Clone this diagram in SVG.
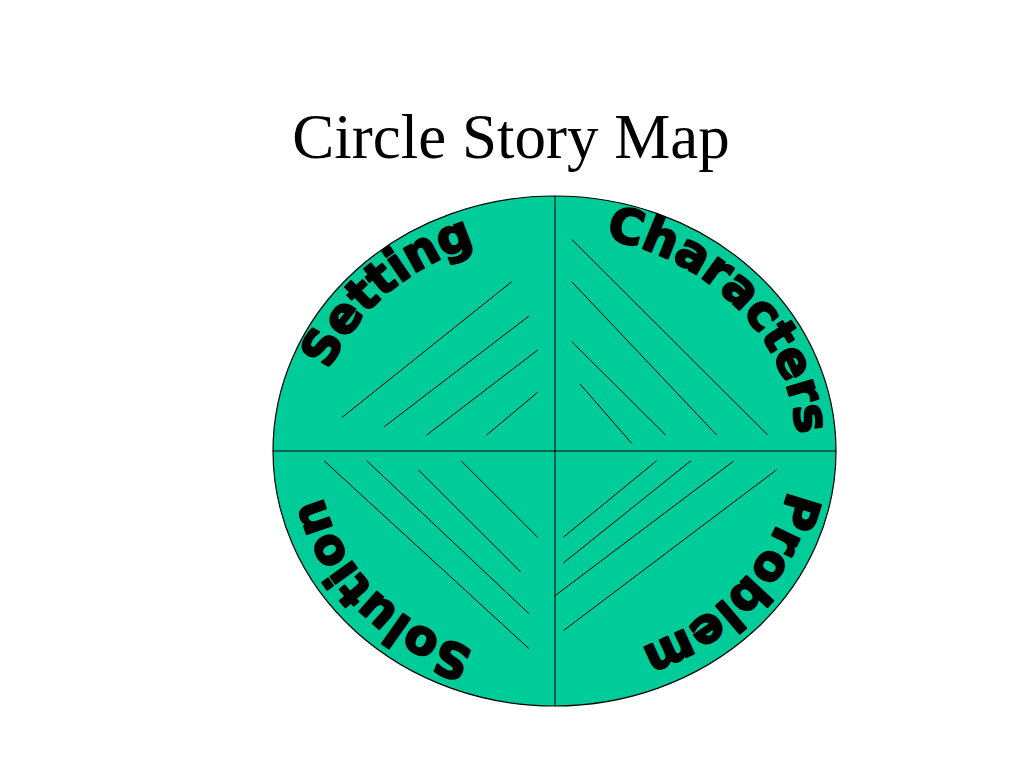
<svg xmlns="http://www.w3.org/2000/svg" width="1024" height="768" viewBox="0 0 1024 768">
<style>
.hatch{stroke:#000;stroke-width:1;fill:none}
.lbl{font-family:"DejaVu Sans","Liberation Sans",sans-serif;font-weight:bold;font-size:48px;fill:#000;stroke:#000;stroke-width:2.2;stroke-linejoin:round}
</style>
<defs>
<path id="arcTop" d="M 311.5,451 A 243 217 0 1 1 797.5,451 A 243 217 0 1 1 311.5,451 Z"/>
<path id="arcBot" d="M 317,451 A 237.5 211 0 1 1 792,451 A 237.5 211 0 1 1 317,451 Z"/>
</defs>
<rect width="1024" height="768" fill="#fff"/>
<text x="511" y="158" text-anchor="middle" font-family="Liberation Serif,'Times New Roman',serif" font-size="63">Circle Story Map</text>
<g id="circle">
<ellipse cx="554.5" cy="451" rx="281.5" ry="255" fill="#00CC99" stroke="#000" stroke-width="1.2"/>
</g>
<g id="dividers">
<line x1="555" y1="196" x2="555" y2="706" class="hatch"/>
<line x1="273" y1="451" x2="836" y2="451" class="hatch"/>
</g>
<g id="setting">
<line x1="341.7" y1="417.7" x2="511.7" y2="281.7" class="hatch"/>
<line x1="384.3" y1="426.7" x2="529" y2="316" class="hatch"/>
<line x1="426.7" y1="435" x2="537.7" y2="350" class="hatch"/>
<line x1="486.7" y1="435" x2="537.7" y2="392.3" class="hatch"/>
<text class="lbl"><textPath href="#arcTop" startOffset="12.6%" text-anchor="middle">Setting</textPath></text>
</g>
<g id="characters">
<line x1="571.7" y1="239.3" x2="767.7" y2="435" class="hatch"/>
<line x1="571.7" y1="281.7" x2="716.7" y2="435" class="hatch"/>
<line x1="571.7" y1="341.7" x2="665.7" y2="435" class="hatch"/>
<line x1="580" y1="384" x2="631.7" y2="443.3" class="hatch"/>
<text class="lbl"><textPath href="#arcTop" startOffset="38.7%" text-anchor="middle">Characters</textPath></text>
</g>
<g id="problem">
<line x1="563.3" y1="537.3" x2="656.7" y2="460.7" class="hatch"/>
<line x1="563.3" y1="563" x2="691" y2="460.7" class="hatch"/>
<line x1="555" y1="595.7" x2="733.3" y2="461.3" class="hatch"/>
<line x1="563.3" y1="630.7" x2="776.7" y2="469.7" class="hatch"/>
<text class="lbl"><textPath href="#arcBot" startOffset="60.8%" text-anchor="middle">Problem</textPath></text>
</g>
<g id="solution">
<line x1="324" y1="460.7" x2="529" y2="648.7" class="hatch"/>
<line x1="366.7" y1="460.7" x2="529" y2="613.7" class="hatch"/>
<line x1="418.3" y1="469.7" x2="520.7" y2="572" class="hatch"/>
<line x1="461" y1="460.7" x2="537.7" y2="537.3" class="hatch"/>
<text class="lbl"><textPath href="#arcBot" startOffset="88.75%" text-anchor="middle">Solution</textPath></text>
</g>
</svg>
